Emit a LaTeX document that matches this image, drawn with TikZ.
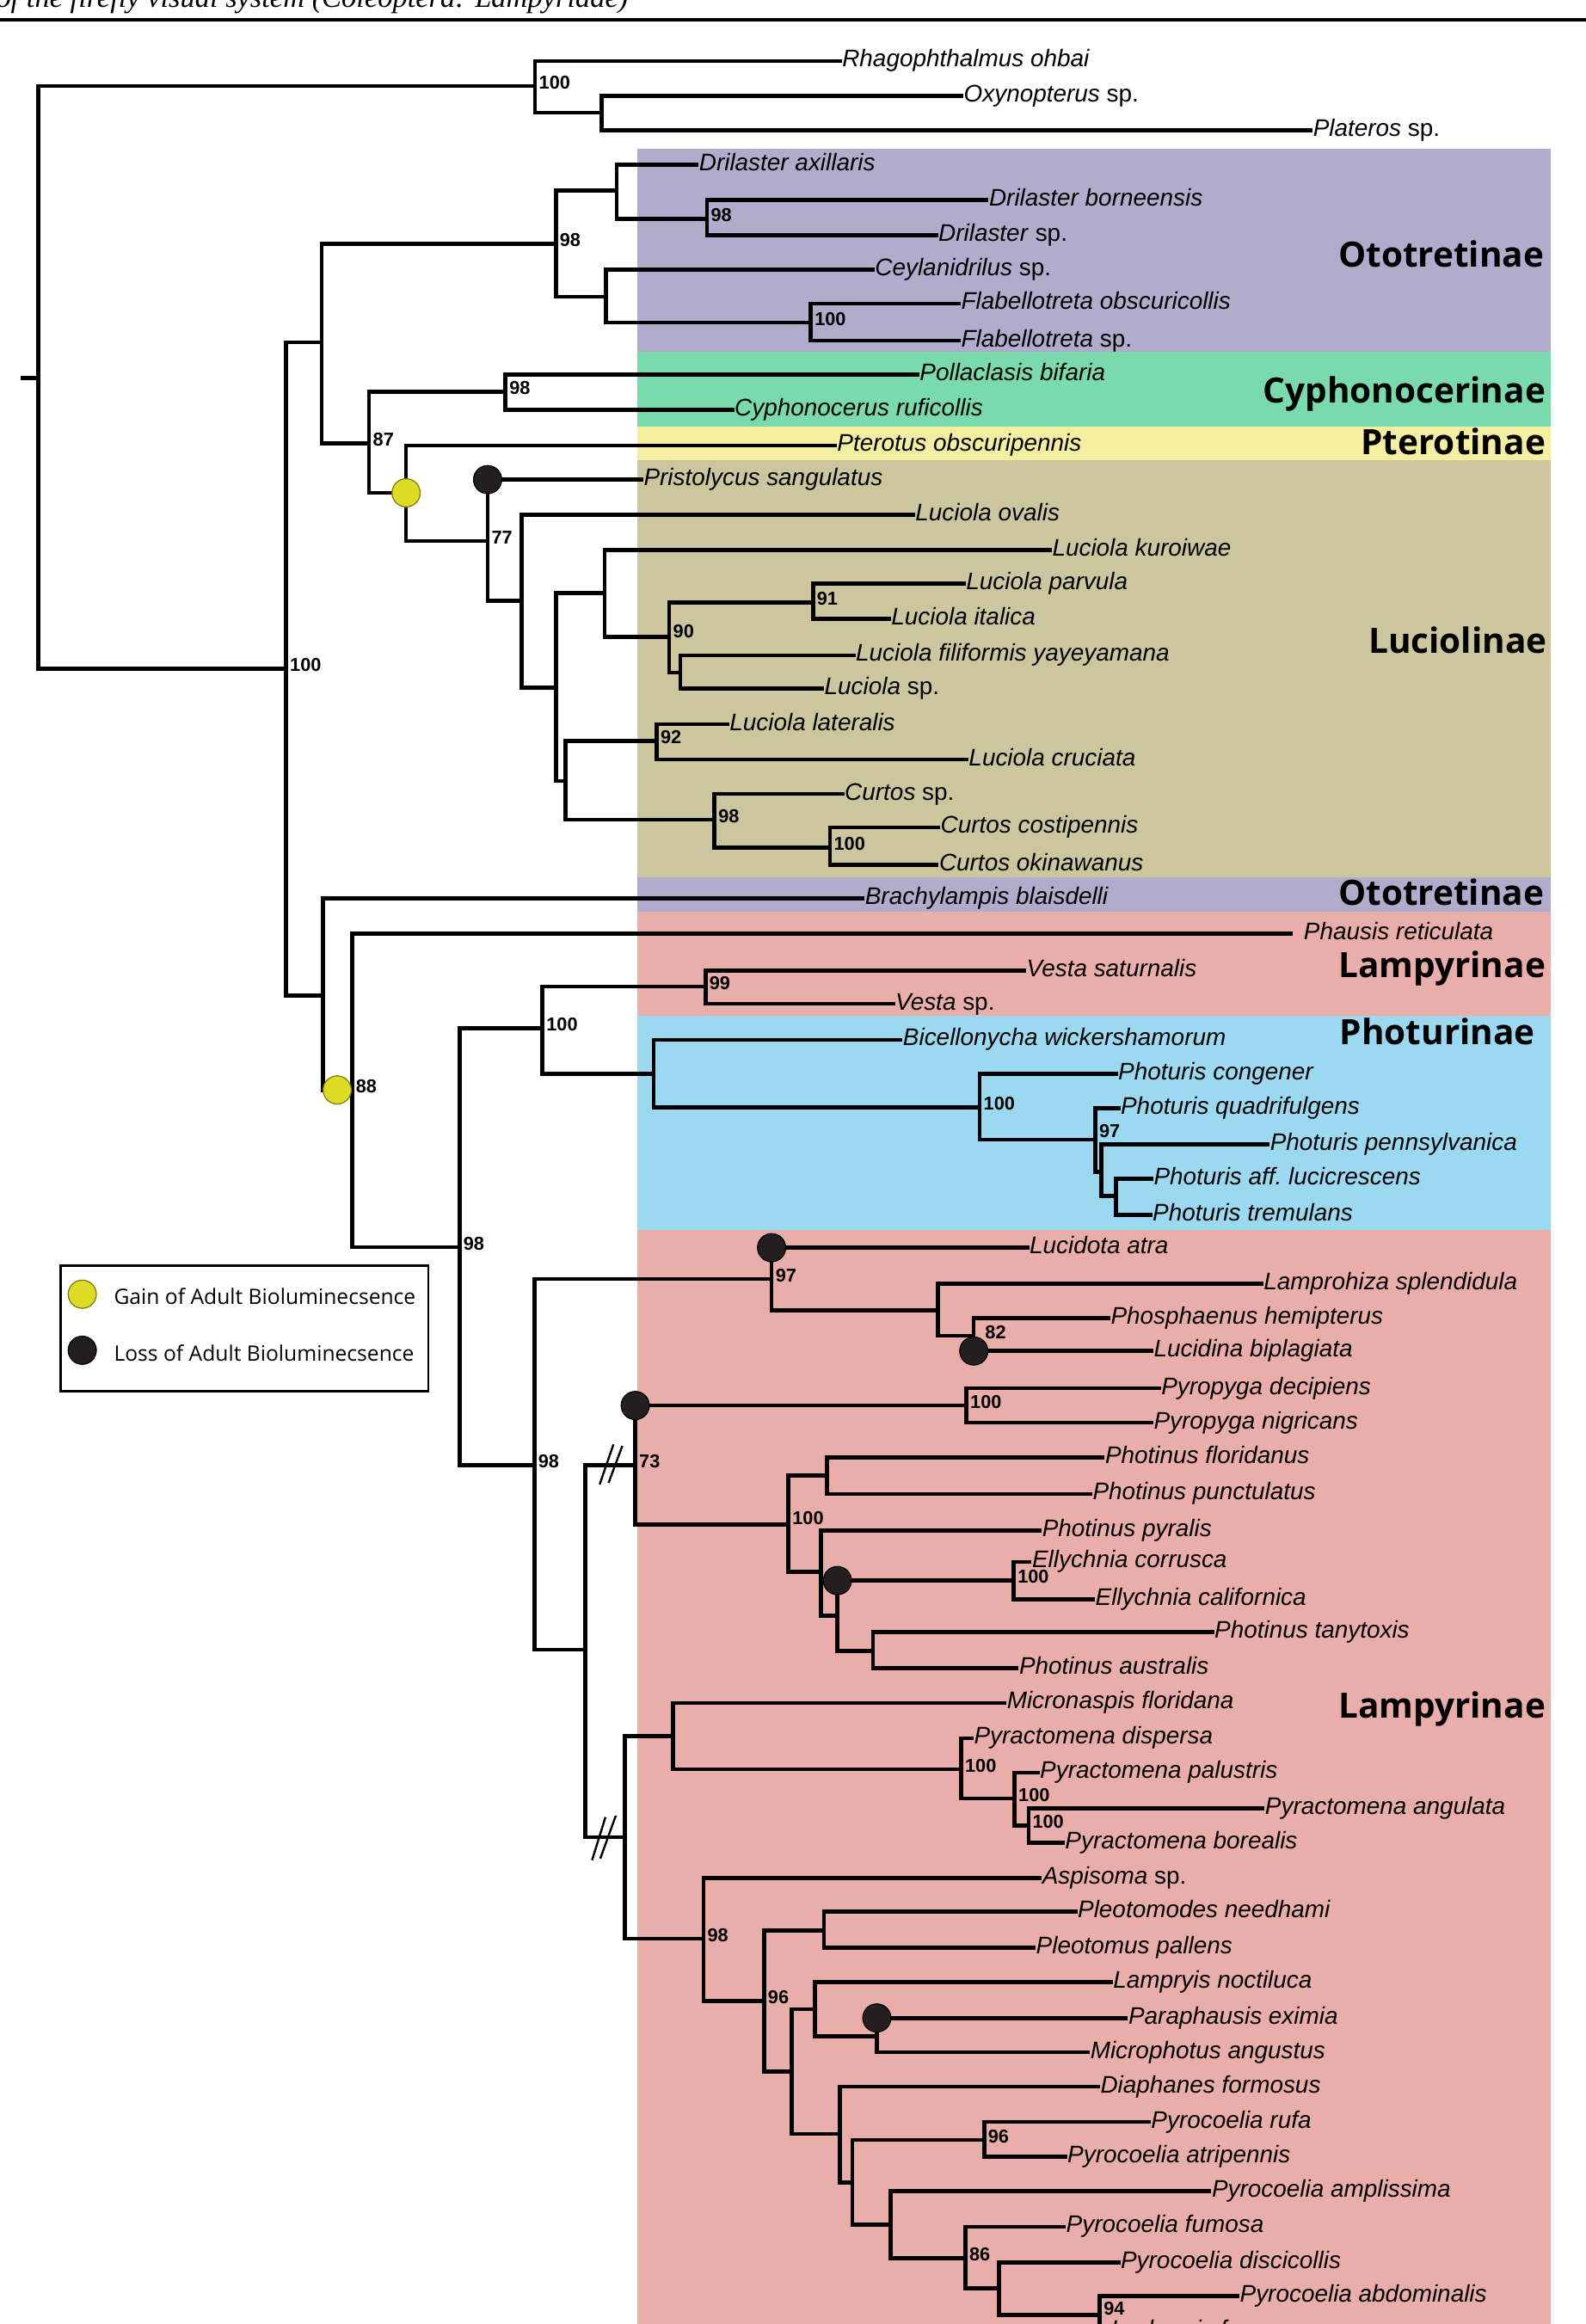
\documentclass[tikz,border=0pt]{standalone}
\usepackage{fontspec}
\setmainfont{Liberation Sans}
\newfontfamily\fontsottofam{Open Sans}
\newfontfamily\fonttestata{Liberation Serif}

\definecolor{viola}{HTML}{B1ACCB}
\definecolor{verde}{HTML}{79DAAB}
\definecolor{giallo}{HTML}{F4EEA0}
\definecolor{beige}{HTML}{CCC69E}
\definecolor{rosa}{HTML}{E9AEA9}
\definecolor{azzurro}{HTML}{9BD9F0}
\definecolor{gialloluce}{HTML}{DDDB22}
\definecolor{giallobordo}{HTML}{7A7A10}
\definecolor{nero}{HTML}{231F20}

\newcommand{\spdot}{\textup{sp.}}
\newcommand{\foglia}[4]{%
  \coordinate (#1) at (#2,#3);
  \node[specie] (#1-l) at (#1) {#4};}

\begin{document}
\begin{tikzpicture}[x=1pt, y=-1pt,
    ramo/.style={line width=2.7pt, line cap=rect, line join=miter},
    specie/.style={anchor=base west, yshift=-4pt, inner xsep=1.5pt, inner ysep=0pt,
      font=\itshape\fontsize{16.2}{19}\selectfont},
    supporto/.style={anchor=west, xshift=2.5pt, yshift=2.5pt, inner sep=0pt,
      font=\bfseries\fontsize{12.6}{13}\selectfont},
    sottofam/.style={anchor=base east, inner sep=0pt,
      font=\fontsottofam\bfseries\fontsize{23.5}{26}\selectfont},
    legenda/.style={anchor=west, inner sep=0pt, font=\fontsottofam\fontsize{14.3}{16}\selectfont},
    guadagno/.style={circle, inner sep=0pt, minimum size=19pt, draw=giallobordo, line width=0.7pt, fill=gialloluce},
    perdita/.style={circle, inner sep=0pt, minimum size=19pt, draw=black, line width=0.7pt, fill=nero},
    taglio/.style={line width=1.4pt}]

    \useasboundingbox (0,0) rectangle (1070,1568);

    % Testata
    \node[anchor=base east, inner sep=0pt, font=\fonttestata\itshape\fontsize{20}{24}\selectfont] (testata) at (424,5)
      {of the firefly visual system (Coleoptera: Lampyridae)};
    \draw[line width=2.5pt] (0,13.3) -- (1070,13.3);

    % Sfondi sottofamiglie
    \fill[viola] (430,100.6) rectangle (1046,237.6);
    \fill[verde] (430,237.6) rectangle (1046,287.8);
    \fill[giallo] (430,287.8) rectangle (1046,310.6);
    \fill[beige] (430,310.6) rectangle (1046,592.2);
    \fill[viola] (430,592.2) rectangle (1046,615.4);
    \fill[rosa] (430,615.4) rectangle (1046,685.1);
    \fill[azzurro] (430,685.1) rectangle (1046,829.7);
    \fill[rosa] (430,829.7) rectangle (1046,1568);

    % Nomi sottofamiglie
    \node[sottofam] (s1) at (1042,180) {Ototretinae};
    \node[sottofam] (s2) at (1043,272) {Cyphonocerinae};
    \node[sottofam] (s3) at (1043,306.5) {Pterotinae};
    \node[sottofam] (s4) at (1044,441) {Luciolinae};
    \node[sottofam] (s5) at (1042,611) {Ototretinae};
    \node[sottofam] (s6) at (1043,659.5) {Lampyrinae};
    \node[sottofam] (s7) at (1036,704.5) {Photurinae};
    \node[sottofam] (s8) at (1043,1159) {Lampyrinae};

    % Nodi interni
    \coordinate (stub) at (15,255);
    \coordinate (root) at (26,255);
    \coordinate (nrhag) at (361,58);
    \coordinate (noxy) at (406,76);
    \coordinate (ningr) at (193,451);
    \coordinate (nsup) at (217,231);
    \coordinate (noto) at (375,164.5);
    \coordinate (ndril) at (416,128.7);
    \coordinate (ndrb) at (477,147.5);
    \coordinate (nceyl) at (409,200.3);
    \coordinate (nflab) at (547,217.7);
    \coordinate (n87) at (249,299);
    \coordinate (ncyph) at (341,264.3);
    \coordinate (ngain) at (274,332.5);
    \coordinate (n77) at (329,365);
    \coordinate (nluc1) at (352,405.5);
    \coordinate (nluc2) at (375,464);
    \coordinate (nkur) at (408,400.2);
    \coordinate (n90) at (451.5,429.6);
    \coordinate (n91) at (548.5,406.4);
    \coordinate (nfil) at (459,453.8);
    \coordinate (nluc3) at (381.5,527);
    \coordinate (n92) at (443,500);
    \coordinate (n98c) at (482,553);
    \coordinate (ncurt) at (560,571.9);
    \coordinate (ninf) at (218,671.6);
    \coordinate (n88) at (237.5,735.4);
    \coordinate (n98a) at (310,841.4);
    \coordinate (n100v) at (366,693.8);
    \coordinate (nvesta) at (476,665.7);
    \coordinate (nphot) at (441,724.4);
    \coordinate (n100p) at (661,747);
    \coordinate (n97p) at (739,768.9);
    \coordinate (npenn) at (743,790.6);
    \coordinate (ntrem) at (752.8,807);
    \coordinate (n98b) at (360.5,988.5);
    \coordinate (n97l) at (520.6,863);
    \coordinate (nlampr) at (633,884);
    \coordinate (n82) at (657,901.2);
    \coordinate (nbreak) at (395,1113);
    \coordinate (n73) at (428.6,988.5);
    \coordinate (npyro) at (652,948.3);
    \coordinate (n100ph) at (532,1028.6);
    \coordinate (nflor) at (558,995.7);
    \coordinate (npyr) at (554,1060.5);
    \coordinate (nelly0) at (565,1090);
    \coordinate (nelly) at (684,1066.4);
    \coordinate (ntany) at (589,1113.8);
    \coordinate (n40) at (421.5,1239.5);
    \coordinate (nmicr) at (454,1171.2);
    \coordinate (npyd) at (648.5,1193.7);
    \coordinate (npyp) at (684.5,1213.4);
    \coordinate (npya) at (694,1231.8);
    \coordinate (n98p) at (474.6,1308);
    \coordinate (n96) at (515.5,1349.9);
    \coordinate (npleo) at (556,1302.4);
    \coordinate (n47) at (534,1397.6);
    \coordinate (n48) at (550,1355.6);
    \coordinate (n49) at (591.6,1374);
    \coordinate (n50) at (566.6,1439.8);
    \coordinate (n51) at (575,1472.7);
    \coordinate (n96r) at (664,1443.7);
    \coordinate (n53) at (600.8,1500.8);
    \coordinate (n86) at (651.4,1523.6);
    \coordinate (n55) at (674,1544);
    \coordinate (n94) at (742,1561.8);

    % Foglie
    \foglia{rhago}{566.6}{41.2}{Rhagophthalmus ohbai}
    \foglia{oxyno}{648.6}{64.8}{Oxynopterus \spdot}
    \foglia{plater}{884.3}{88}{Plateros \spdot}
    \foglia{drax}{470}{111.3}{Drilaster axillaris}
    \foglia{drbor}{665.7}{134.9}{Drilaster borneensis}
    \foglia{drsp}{631.5}{158.7}{Drilaster \spdot}
    \foglia{ceyl}{588.7}{181.9}{Ceylanidrilus \spdot}
    \foglia{flobs}{646.8}{204.8}{Flabellotreta obscuricollis}
    \foglia{flsp}{646.8}{229.9}{Flabellotreta \spdot}
    \foglia{polla}{618.9}{252.6}{Pollaclasis bifaria}
    \foglia{cyphr}{494}{276.4}{Cyphonocerus ruficollis}
    \foglia{ptero}{563.2}{300.5}{Pterotus obscuripennis}
    \foglia{prist}{432.7}{323.6}{Pristolycus sangulatus}
    \foglia{lovalis}{616}{347.4}{Luciola ovalis}
    \foglia{lkuro}{708.3}{371.2}{Luciola kuroiwae}
    \foglia{lparv}{650.2}{393.8}{Luciola parvula}
    \foglia{lital}{599.7}{417.6}{Luciola italica}
    \foglia{lfili}{575.8}{442.2}{Luciola filiformis yayeyamana}
    \foglia{lsp}{554.6}{464.5}{Luciola \spdot}
    \foglia{llat}{490.6}{488.7}{Luciola lateralis}
    \foglia{lcruc}{652}{512.5}{Luciola cruciata}
    \foglia{cursp}{568.3}{535.7}{Curtos \spdot}
    \foglia{curcos}{633}{558.3}{Curtos costipennis}
    \foglia{curoki}{632}{583.5}{Curtos okinawanus}
    \foglia{brach}{582}{606.3}{Brachylampis blaisdelli}
    \coordinate (phaus) at (871,630);
    \node[specie, xshift=7pt] (phaus-l) at (phaus) {Phausis reticulata};
    \foglia{vsat}{691}{654.7}{Vesta saturnalis}
    \foglia{vsp}{602.5}{677.3}{Vesta \spdot}
    \foglia{bicel}{607.6}{701.5}{Bicellonycha wickershamorum}
    \foglia{pcong}{752.8}{724.4}{Photuris congener}
    \foglia{pquad}{754.5}{747.6}{Photuris quadrifulgens}
    \foglia{ppenn}{855.3}{772.2}{Photuris pennsylvanica}
    \foglia{pluci}{776.8}{795.4}{Photuris aff.\ lucicrescens}
    \foglia{ptrem}{776}{819.6}{Photuris tremulans}
    \foglia{lucat}{693}{841.8}{Lucidota atra}
    \foglia{lampr}{851}{866}{Lamprohiza splendidula}
    \foglia{phosp}{747.8}{889.3}{Phosphaenus hemipterus}
    \foglia{lbipl}{776.8}{911.5}{Lucidina biplagiata}
    \foglia{pydec}{781.9}{936.7}{Pyropyga decipiens}
    \foglia{pynig}{776.8}{959.9}{Pyropyga nigricans}
    \foglia{pflor}{744}{983.2}{Photinus floridanus}
    \foglia{ppunc}{735.6}{1007.9}{Photinus punctulatus}
    \foglia{ppyr}{701.5}{1032.5}{Photinus pyralis}
    \foglia{ecorr}{694.7}{1053.8}{Ellychnia corrusca}
    \foglia{ecalif}{737.4}{1079}{Ellychnia californica}
    \foglia{ptany}{817.8}{1101.2}{Photinus tanytoxis}
    \foglia{paust}{686}{1125.4}{Photinus australis}
    \foglia{micro}{677.7}{1149}{Micronaspis floridana}
    \foglia{pydis}{655.5}{1172.8}{Pyractomena dispersa}
    \foglia{pypal}{700}{1196}{Pyractomena palustris}
    \foglia{pyang}{851.9}{1220.2}{Pyractomena angulata}
    \foglia{pybor}{717}{1243.4}{Pyractomena borealis}
    \foglia{aspis}{701.5}{1267}{Aspisoma \spdot}
    \foglia{pleod}{725.5}{1289.9}{Pleotomodes needhami}
    \foglia{pleop}{697.4}{1314}{Pleotomus pallens}
    \foglia{lnoct}{749.4}{1337.3}{Lampryis noctiluca}
    \foglia{parap}{759.7}{1361.5}{Paraphausis eximia}
    \foglia{micph}{734}{1384.7}{Microphotus angustus}
    \foglia{diaph}{740.8}{1407.9}{Diaphanes formosus}
    \foglia{prufa}{775}{1431.7}{Pyrocoelia rufa}
    \foglia{patri}{718.6}{1455.3}{Pyrocoelia atripennis}
    \foglia{pampl}{816}{1478.5}{Pyrocoelia amplissima}
    \foglia{pfumo}{717.7}{1502.4}{Pyrocoelia fumosa}
    \foglia{pdisc}{754.5}{1526.4}{Pyrocoelia discicollis}
    \foglia{pabdo}{834.9}{1549.2}{Pyrocoelia abdominalis}
    \foglia{lform}{748}{1573}{Lychnuris formosana}

    % Rami
    \draw[ramo] (stub) -- (root);
    \draw[ramo] (root) |- (nrhag) (root) |- (ningr);
    \draw[ramo] (nrhag) |- (rhago) (nrhag) |- (noxy);
    \draw[ramo] (noxy) |- (oxyno) (noxy) |- (plater);
    \draw[ramo] (ningr) |- (nsup) (ningr) |- (ninf);
    \draw[ramo] (nsup) |- (noto) (nsup) |- (n87);
    \draw[ramo] (noto) |- (ndril) (noto) |- (nceyl);
    \draw[ramo] (ndril) |- (drax) (ndril) |- (ndrb);
    \draw[ramo] (ndrb) |- (drbor) (ndrb) |- (drsp);
    \draw[ramo] (nceyl) |- (ceyl) (nceyl) |- (nflab);
    \draw[ramo] (nflab) |- (flobs) (nflab) |- (flsp);
    \draw[ramo] (n87) |- (ncyph) (n87) |- (ngain);
    \draw[ramo] (ncyph) |- (polla) (ncyph) |- (cyphr);
    \draw[ramo] (ngain) |- (ptero) (ngain) |- (n77);
    \draw[ramo] (n77) |- (prist) (n77) |- (nluc1);
    \draw[ramo] (nluc1) |- (lovalis) (nluc1) |- (nluc2);
    \draw[ramo] (nluc2) |- (nkur) (nluc2) |- (nluc3);
    \draw[ramo] (nkur) |- (lkuro) (nkur) |- (n90);
    \draw[ramo] (n90) |- (n91) (n90) |- (nfil);
    \draw[ramo] (n91) |- (lparv) (n91) |- (lital);
    \draw[ramo] (nfil) |- (lfili) (nfil) |- (lsp);
    \draw[ramo] (nluc3) |- (n92) (nluc3) |- (n98c);
    \draw[ramo] (n92) |- (llat) (n92) |- (lcruc);
    \draw[ramo] (n98c) |- (cursp) (n98c) |- (ncurt);
    \draw[ramo] (ncurt) |- (curcos) (ncurt) |- (curoki);
    \draw[ramo] (ninf) |- (brach) (ninf) |- (n88);
    \draw[ramo] (n88) |- (phaus) (n88) |- (n98a);
    \draw[ramo] (n98a) |- (n100v) (n98a) |- (n98b);
    \draw[ramo] (n100v) |- (nvesta) (n100v) |- (nphot);
    \draw[ramo] (nvesta) |- (vsat) (nvesta) |- (vsp);
    \draw[ramo] (nphot) |- (bicel) (nphot) |- (n100p);
    \draw[ramo] (n100p) |- (pcong) (n100p) |- (n97p);
    \draw[ramo] (n97p) |- (pquad) (n97p) |- (npenn);
    \draw[ramo] (npenn) |- (ppenn) (npenn) |- (ntrem);
    \draw[ramo] (ntrem) |- (pluci) (ntrem) |- (ptrem);
    \draw[ramo] (n98b) |- (n97l) (n98b) |- (nbreak);
    \draw[ramo] (n97l) |- (lucat) (n97l) |- (nlampr);
    \draw[ramo] (nlampr) |- (lampr) (nlampr) |- (n82);
    \draw[ramo] (n82) |- (phosp) (n82) |- (lbipl);
    \draw[ramo] (nbreak) |- (n73) (nbreak) |- (n40);
    \draw[ramo] (n73) |- (npyro) (n73) |- (n100ph);
    \draw[ramo] (npyro) |- (pydec) (npyro) |- (pynig);
    \draw[ramo] (n100ph) |- (nflor) (n100ph) |- (npyr);
    \draw[ramo] (nflor) |- (pflor) (nflor) |- (ppunc);
    \draw[ramo] (npyr) |- (ppyr) (npyr) |- (nelly0);
    \draw[ramo] (nelly0) |- (nelly) (nelly0) |- (ntany);
    \draw[ramo] (nelly) |- (ecorr) (nelly) |- (ecalif);
    \draw[ramo] (ntany) |- (ptany) (ntany) |- (paust);
    \draw[ramo] (n40) |- (nmicr) (n40) |- (n98p);
    \draw[ramo] (nmicr) |- (micro) (nmicr) |- (npyd);
    \draw[ramo] (npyd) |- (pydis) (npyd) |- (npyp);
    \draw[ramo] (npyp) |- (pypal) (npyp) |- (npya);
    \draw[ramo] (npya) |- (pyang) (npya) |- (pybor);
    \draw[ramo] (n98p) |- (aspis) (n98p) |- (n96);
    \draw[ramo] (n96) |- (npleo) (n96) |- (n47);
    \draw[ramo] (npleo) |- (pleod) (npleo) |- (pleop);
    \draw[ramo] (n47) |- (n48) (n47) |- (n50);
    \draw[ramo] (n48) |- (lnoct) (n48) |- (n49);
    \draw[ramo] (n49) |- (parap) (n49) |- (micph);
    \draw[ramo] (n50) |- (diaph) (n50) |- (n51);
    \draw[ramo] (n51) |- (n96r) (n51) |- (n53);
    \draw[ramo] (n96r) |- (prufa) (n96r) |- (patri);
    \draw[ramo] (n53) |- (pampl) (n53) |- (n86);
    \draw[ramo] (n86) |- (pfumo) (n86) |- (n55);
    \draw[ramo] (n55) |- (pdisc) (n55) |- (n94);
    \draw[ramo] (n94) |- (pabdo) (n94) |- (lform);

    % Rami interrotti
    \draw[taglio] ([shift={(-24,13)}]n73) -- ++(9.3,-27);
    \draw[taglio] ([shift={(-18,12)}]n73) -- ++(9.3,-25);
    \draw[taglio] ([shift={(-22,15.5)}]n40) -- ++(9,-29);
    \draw[taglio] ([shift={(-16.5,14.5)}]n40) -- ++(10.5,-29);

    % Guadagni e perdite
    \node[guadagno] (g1) at (ngain) {};
    \node[guadagno] (g2) at ([xshift=-10pt]n88) {};
    \node[perdita] (p1) at (n77 |- prist) {};
    \node[perdita] (p2) at (n97l |- lucat) {};
    \node[perdita] (p3) at (n82 |- lbipl) {};
    \node[perdita] (p4) at (n73 |- npyro) {};
    \node[perdita] (p5) at (nelly0 |- nelly) {};
    \node[perdita] (p6) at (n49 |- parap) {};

    % Supporti bootstrap
    \node[supporto] (b1) at (nrhag) {100};
    \node[supporto] (b2) at (noto) {98};
    \node[supporto] (b3) at (ndrb) {98};
    \node[supporto] (b4) at (nflab) {100};
    \node[supporto] (b5) at (ningr) {100};
    \node[supporto] (b6) at (n87) {87};
    \node[supporto] (b7) at (ncyph) {98};
    \node[supporto] (b8) at (n77) {77};
    \node[supporto, yshift=1pt] (b9) at (n90) {90};
    \node[supporto] (b10) at (n91) {91};
    \node[supporto] (b11) at (n92) {92};
    \node[supporto] (b12) at (n98c) {98};
    \node[supporto] (b13) at (ncurt) {100};
    \node[supporto] (b14) at (n88) {88};
    \node[supporto] (b15) at (n98a) {98};
    \node[supporto] (b16) at (n100v) {100};
    \node[supporto] (b17) at (nvesta) {99};
    \node[supporto] (b18) at (n100p) {100};
    \node[supporto, yshift=3pt] (b19) at (n97p) {97};
    \node[supporto] (b20) at (n98b) {98};
    \node[supporto] (b21) at (n97l) {97};
    \node[supporto, xshift=5pt] (b22) at (n82) {82};
    \node[supporto] (b23) at (n73) {73};
    \node[supporto] (b24) at (npyro) {100};
    \node[supporto, yshift=2pt] (b25) at (n100ph) {100};
    \node[supporto] (b26) at (nelly) {100};
    \node[supporto] (b27) at (npyd) {100};
    \node[supporto] (b28) at (npyp) {100};
    \node[supporto] (b29) at (npya) {100};
    \node[supporto] (b30) at (n98p) {98};
    \node[supporto] (b31) at (n96) {96};
    \node[supporto] (b32) at (n96r) {96};
    \node[supporto] (b33) at (n86) {86};
    \node[supporto, yshift=1.5pt] (b34) at (n94) {94};

    % Legenda
    \draw[line width=1.4pt] (40.9,853.8) rectangle (289,938.6);
    \node[guadagno] (lg1) at (55.5,873.2) {};
    \node[legenda] (lt1) at (76.7,874.4) {Gain of Adult Bioluminecsence};
    \node[perdita] (lg2) at (55.5,911) {};
    \node[legenda] (lt2) at (76.7,913.2) {Loss of Adult Bioluminecsence};

\end{tikzpicture}
\end{document}
